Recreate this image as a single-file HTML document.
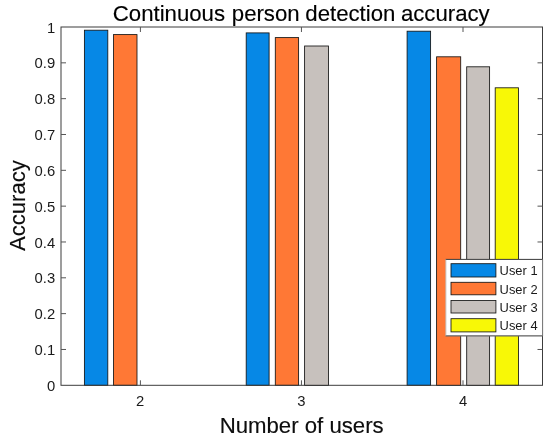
<!DOCTYPE html>
<html><head><meta charset="utf-8"><title>Continuous person detection accuracy</title>
<style>
html,body{margin:0;padding:0;background:#fff;}
svg{display:block}
text{font-family:"Liberation Sans",Arial,sans-serif;fill:#1a1a1a}
text.t{fill:#000}
text.l{fill:#0d0d0d}
</style></head><body>
<svg width="550" height="442" viewBox="0 0 550 442">
<rect x="0" y="0" width="550" height="442" fill="#ffffff"/>
<rect x="84.4" y="30.2" width="23.4" height="355.1" fill="#0688e6" stroke="#141414" stroke-width="0.85"/>
<rect x="113.5" y="34.6" width="23.5" height="350.7" fill="#ff7835" stroke="#141414" stroke-width="0.85"/>
<rect x="246.2" y="32.9" width="22.9" height="352.4" fill="#0688e6" stroke="#141414" stroke-width="0.85"/>
<rect x="275.3" y="37.6" width="23.3" height="347.7" fill="#ff7835" stroke="#141414" stroke-width="0.85"/>
<rect x="304.6" y="46.0" width="23.9" height="339.4" fill="#c7c1bd" stroke="#141414" stroke-width="0.85"/>
<rect x="407.1" y="31.2" width="23.5" height="354.1" fill="#0688e6" stroke="#141414" stroke-width="0.85"/>
<rect x="436.6" y="56.8" width="24.1" height="328.6" fill="#ff7835" stroke="#141414" stroke-width="0.85"/>
<rect x="466.7" y="66.8" width="22.9" height="318.6" fill="#c7c1bd" stroke="#141414" stroke-width="0.85"/>
<rect x="495.2" y="87.8" width="23.3" height="297.5" fill="#f8f806" stroke="#141414" stroke-width="0.85"/>
<rect x="61.0" y="27.0" width="481.5" height="358.3" fill="none" stroke="#3c3c3c" stroke-width="1"/>
<path d="M61.0 349.47h5M542.5 349.47h-5 M61.0 313.64h5M542.5 313.64h-5 M61.0 277.81h5M542.5 277.81h-5 M61.0 241.98h5M542.5 241.98h-5 M61.0 206.15h5M542.5 206.15h-5 M61.0 170.32h5M542.5 170.32h-5 M61.0 134.49h5M542.5 134.49h-5 M61.0 98.66h5M542.5 98.66h-5 M61.0 62.83h5M542.5 62.83h-5 M140.4 385.3v-5M140.4 27.0v5 M301.45 385.3v-5M301.45 27.0v5 M463.0 385.3v-5M463.0 27.0v5" stroke="#555" stroke-width="1" fill="none"/>
<text x="55.2" y="390.9" font-size="14.8" text-anchor="end">0</text>
<text x="55.2" y="355.1" font-size="14.8" text-anchor="end">0.1</text>
<text x="55.2" y="319.2" font-size="14.8" text-anchor="end">0.2</text>
<text x="55.2" y="283.4" font-size="14.8" text-anchor="end">0.3</text>
<text x="55.2" y="247.6" font-size="14.8" text-anchor="end">0.4</text>
<text x="55.2" y="211.8" font-size="14.8" text-anchor="end">0.5</text>
<text x="55.2" y="175.9" font-size="14.8" text-anchor="end">0.6</text>
<text x="55.2" y="140.1" font-size="14.8" text-anchor="end">0.7</text>
<text x="55.2" y="104.3" font-size="14.8" text-anchor="end">0.8</text>
<text x="55.2" y="68.4" font-size="14.8" text-anchor="end">0.9</text>
<text x="55.2" y="32.6" font-size="14.8" text-anchor="end">1</text>
<text x="140.1" y="406.1" font-size="14.8" text-anchor="middle">2</text>
<text x="301.4" y="406.1" font-size="14.8" text-anchor="middle">3</text>
<text x="463" y="406.1" font-size="14.8" text-anchor="middle">4</text>
<text class="t" y="21.1" font-size="22.2" stroke="#000" stroke-width="0.15"><tspan x="112.8">Continuous </tspan><tspan x="231.8">person </tspan><tspan x="305.35">detection </tspan><tspan x="400.9">accuracy</tspan></text>
<text class="l" y="433" font-size="22.2" stroke="#111" stroke-width="0.15"><tspan x="219.7">Number </tspan><tspan x="304.75">of </tspan><tspan x="329.45">users</tspan></text>
<text transform="translate(24.6 205.6) rotate(-90)" class="l" font-size="22.1" stroke="#111" stroke-width="0.15" text-anchor="middle">Accuracy</text>
<rect x="445.6" y="259.1" width="97.2" height="77.1" fill="#fff"/><path d="M445.6 259.4H542.8M445.6 335.9H542.8" stroke="#2e2e2e" stroke-width="0.95" fill="none"/><path d="M445.9 259.4V335.9" stroke="#9a9a9a" stroke-width="0.6" fill="none"/><path d="M542.6 259.4V335.9" stroke="#666" stroke-width="0.9" fill="none"/>
<rect x="451.0" y="263.7" width="44.9" height="13.3" fill="#0688e6" stroke="#141414" stroke-width="0.85"/>
<text x="499.6" y="275.4" font-size="12.9">User 1</text>
<rect x="451.0" y="282.3" width="44.9" height="12.5" fill="#ff7835" stroke="#141414" stroke-width="0.85"/>
<text x="499.6" y="293.6" font-size="12.9">User 2</text>
<rect x="451.0" y="300.5" width="44.9" height="12.5" fill="#c7c1bd" stroke="#141414" stroke-width="0.85"/>
<text x="499.6" y="311.8" font-size="12.9">User 3</text>
<rect x="451.0" y="318.7" width="44.9" height="13.2" fill="#f8f806" stroke="#141414" stroke-width="0.85"/>
<text x="499.6" y="330.3" font-size="12.9">User 4</text>
</svg></body></html>
